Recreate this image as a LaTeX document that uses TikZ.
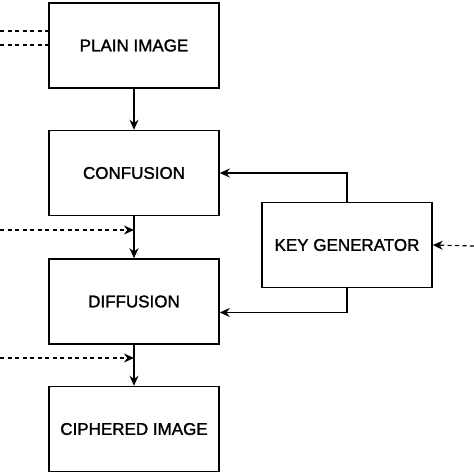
\documentclass[tikz,border=0pt]{standalone}
\usepackage{fontspec}
\setmainfont{Liberation Sans}
\usetikzlibrary{arrows.meta,calc}
\begin{document}
\begin{tikzpicture}[x=1pt,y=-1pt,
  blk/.style={draw,line width=1.5pt,minimum width=170pt,minimum height=85pt,inner sep=0pt,font=\fontsize{17}{20}\selectfont\addfontfeature{FakeBold=1.5}},
  conn/.style={line width=1.4pt,-{Stealth[length=10pt,width=9pt]}},
  dconn/.style={line width=1.2pt,dash pattern=on 4pt off 3.5pt,-{Stealth[length=10pt,width=9pt]}},
  dline/.style={line width=1.2pt,dash pattern=on 4pt off 3.5pt}]
\useasboundingbox (0,0) rectangle (474,474);
\fill[white] (0,0) rectangle (474,474);
\node[blk] (plain) at (134,45.5) {PLAIN IMAGE};
\node[blk] (conf) at (134,173) {CONFUSION};
\node[blk] (diff) at (134,301.5) {DIFFUSION};
\node[blk] (ciph) at (134,429) {CIPHERED IMAGE};
\node[blk] (key) at (347,245) {KEY GENERATOR};
\coordinate (l1) at (0,31);
\coordinate (l2) at (0,45);
\coordinate (l3) at (0,230);
\coordinate (l4) at (0,358);
\coordinate (r1) at (474,246);
\draw[conn] (plain) -- (conf);
\draw[conn] (conf) -- (diff);
\draw[conn] (diff) -- (ciph);
\draw[dline] (l1) -- (l1 -| plain.west);
\draw[dline] (l2) -- (l2 -| plain.west);
\draw[dconn] (l3) -- (l3 -| conf.south);
\draw[dconn] (l4) -- (l4 -| diff.south);
\draw[dconn] (r1) -- (key.east);
\draw[conn] (key.north) |- (conf.east);
\draw[conn] (key.south) |- ($(diff.east)+(0,11)$);
\end{tikzpicture}
\end{document}
